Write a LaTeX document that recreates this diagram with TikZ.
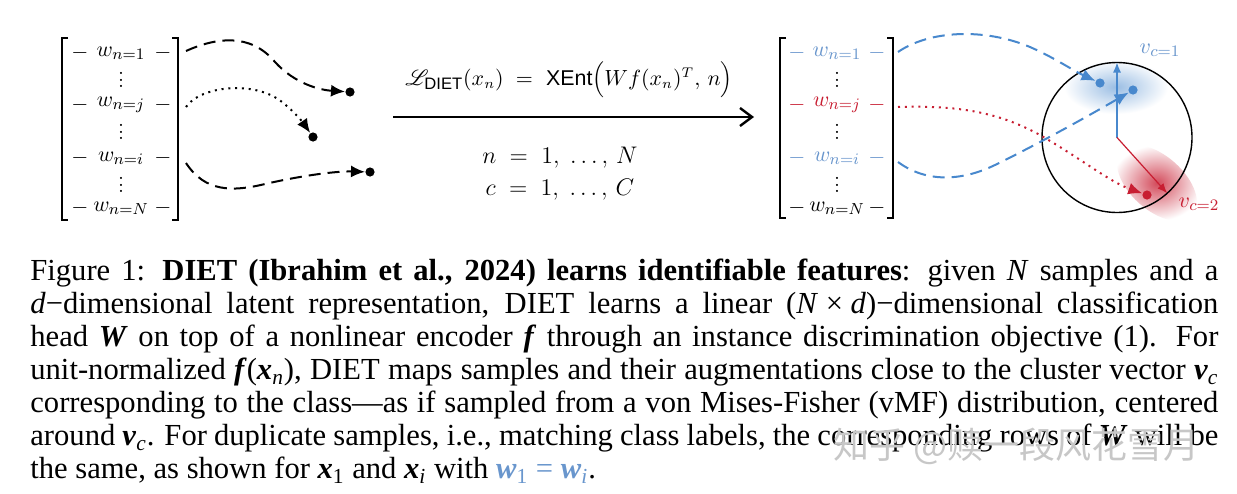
\documentclass[tikz,border=0pt]{standalone}
\usepackage{fontspec}
\usepackage{mathrsfs}
\usetikzlibrary{arrows.meta}
\newfontfamily\capfont{Liberation Serif}
\newfontfamily\sansf{Liberation Sans}
\newfontfamily\cjk{Noto Sans CJK SC}
\definecolor{blueC}{RGB}{72,136,205}
\definecolor{blueT}{RGB}{105,150,205}
\definecolor{redC}{RGB}{200,30,50}
\newcommand\bv[1]{\textbf{\textit{#1}}}
\newcommand\capsetup{\capfont\fontsize{15.3}{16.5}\selectfont\hyphenpenalty 10000 \exhyphenpenalty 10000 \relax}
\newcommand\vdt{\vbox{\baselineskip 3.3pt\lineskiplimit 0pt\hbox{.}\hbox{.}\hbox{.}}}
\tikzset{
  brk/.style={line width=0.75pt},
  entry/.style={inner sep=0pt, font=\fontsize{11}{13}\selectfont},
  vdotn/.style={inner sep=0pt, font=\fontsize{11}{11}\selectfont},
  dotn/.style={circle, fill, inner sep=0pt, minimum size=4.6pt},
  blk/.style={line width=1pt, -{Latex[length=7pt,width=6pt]}},
  dsh/.style={dash pattern=on 6pt off 3.5pt},
  dtt/.style={dash pattern=on 1pt off 2.4pt},
  captext/.style={anchor=north west, inner sep=0pt, text width=594pt, align=justify,
    font=\capsetup},
}
\begin{document}
\begin{tikzpicture}[x=0.5pt,y=-0.5pt]
\useasboundingbox[fill=white] (0,0) rectangle (1237,493);

% ---------- left matrix ----------
\draw[brk] (68,38) -- (62,38) -- (62,220) -- (68,220);
\draw[brk] (172,38) -- (178,38) -- (178,220) -- (172,220);
\foreach \y/\n/\lab in {53/1/{n=1},105/j/{n=j},158/i/{n=i},208/N/{n=N}}{
  \node[entry] (lw\n) at (121,\y) {$w_{\lab}$};
  \node[entry] (lma\n) at (80,\y) {$-$};
  \node[entry] (lmb\n) at (163,\y) {$-$};
}
\foreach \y/\k in {80/a,132/b,185/c}{
  \node[vdotn] (lvd\k) at (121,\y) {\vdt};
}
\coordinate (ls1) at (186,51);
\coordinate (ls2) at (186,107);
\coordinate (ls3) at (186,163);
\node[dotn] (ld1) at (350,92) {};
\node[dotn] (ld2) at (313,137) {};
\node[dotn] (ld3) at (370,172) {};
\draw[blk,dsh] (ls1) .. controls (215,38) and (250,32) .. (275,62) .. controls (295,84) and (320,90) .. (ld1);
\draw[blk,dtt] (ls2) .. controls (200,86) and (255,80) .. (282,102) .. controls (296,113) and (304,124) .. (ld2);
\draw[blk,dsh] (ls3) .. controls (205,192) and (232,192) .. (265,184) .. controls (300,176) and (335,171) .. (ld3);

% ---------- centre ----------
\node[inner sep=0pt, font=\fontsize{10.7}{13}\selectfont] (loss) at (569,80)
  {$\mathscr{L}_{\mbox{\sansf\fontsize{8.3}{9}\selectfont DIET}}(x_n)\;=\;$ {\sansf XEnt}$\Big(Wf(x_n)^T,\,n\Big)$};
\coordinate (a0) at (393,117);
\coordinate (a1) at (754,117);
\draw[line width=1.2pt, -{Straight Barb[length=6pt,width=9pt]}] (a0) -- (a1);
\node[inner sep=0pt, font=\fontsize{12}{14}\selectfont] (nrange) at (560,158) {$n\;=\;1,\;\ldots,\,N$};
\node[inner sep=0pt, font=\fontsize{12}{14}\selectfont] (crange) at (560,190) {$c\;=\;1,\;\ldots,\,C$};

% ---------- right matrix ----------
\draw[brk] (786,38) -- (780,38) -- (780,218) -- (786,218);
\draw[brk] (887,38) -- (893,38) -- (893,218) -- (887,218);
\foreach \y/\n/\lab/\c in {53/1/{n=1}/blueT,105/j/{n=j}/redC,158/i/{n=i}/blueT,208/N/{n=N}/black}{
  \node[entry,text=\c] (rw\n) at (837,\y) {$w_{\lab}$};
  \node[entry,text=\c] (rma\n) at (797,\y) {$-$};
  \node[entry,text=\c] (rmb\n) at (877,\y) {$-$};
}
\foreach \y/\k in {80/a,132/b,185/c}{
  \node[vdotn] (rvd\k) at (837,\y) {\vdt};
}

% blobs
\shade[inner color=blueC!55, outer color=white] (1116,87) ellipse [x radius=52, y radius=27];
\begin{scope}[shift={(1157,183)}, rotate=-42]
\shade[inner color=redC!80, outer color=white] (0,0) ellipse [x radius=48, y radius=27];
\end{scope}

\node[draw, circle, line width=0.7pt, minimum size=75pt, inner sep=0pt, outer sep=0pt] (sph) at (1117,137.5) {};
\draw[blueC, line width=0.6pt, -{Latex[length=5pt,width=4pt]}] (sph.center) -- (sph.north);
\draw[redC, line width=0.6pt, -{Latex[length=5pt,width=4pt]}] (sph.center) -- (sph.-48);
\node[inner sep=0pt, text=blueT, font=\fontsize{11}{13}\selectfont] (v1) at (1160,50) {$v_{c=1}$};
\node[inner sep=0pt, text=redC, font=\fontsize{11}{13}\selectfont] (v2) at (1199,204) {$v_{c=2}$};

\coordinate (rs1) at (898,52);
\coordinate (rs2) at (898,107);
\coordinate (rs3) at (898,162);
\node[dotn, blueC] (rd1) at (1100,83) {};
\node[dotn, redC] (rd2) at (1147,195) {};
\node[dotn, blueC] (rd3) at (1133,90) {};
\draw[blk,dsh,blueC] (rs1) .. controls (930,30) and (985,28) .. (1030,47) .. controls (1055,58) and (1072,70) .. (rd1);
\draw[blk,dtt,redC] (rs2) .. controls (960,105) and (1000,113) .. (1040,135) .. controls (1080,158) and (1110,182) .. (rd2);
\draw[blk,dsh,blueC] (rs3) .. controls (925,182) and (960,182) .. (995,165) .. controls (1040,143) and (1090,115) .. (rd3);

% ---------- caption ----------
\node[captext] (caption) at (30,259) {Figure 1: \textbf{DIET (Ibrahim et al., 2024) learns identifiable features}: given \textit{N} samples and a\linebreak
\textit{d}−dimensional latent representation, DIET learns a linear \hbox{(\textit{N} × \textit{d})}−dimensional classification\linebreak
head \bv{W} on top of a nonlinear encoder \bv{f} through an instance discrimination objective (1). For\linebreak
unit-normalized \bv{f}(\bv{x}\textsubscript{\textit{n}}), DIET maps samples and their augmentations close to the cluster vector \bv{v}\textsubscript{\textit{c}}\linebreak
corresponding to the class—as if sampled from a von Mises-Fisher (vMF) distribution, centered\linebreak
around \bv{v}\textsubscript{\textit{c}}. For duplicate samples, i.e., matching class labels, the corresponding rows of \bv{W} will be\linebreak
the same, as shown for \bv{x}\textsubscript{1} and \bv{x}\textsubscript{\textit{i}} with \textcolor{blueT}{\bv{w}\textsubscript{1} = \bv{w}\textsubscript{\textit{i}}}.};

% watermark
\node[inner sep=0pt, anchor=west, text=black!22, font=\cjk\fontsize{18}{18}\selectfont] (wm) at (833,446) {知乎 @赎一段风花雪月};
\end{tikzpicture}
\end{document}
